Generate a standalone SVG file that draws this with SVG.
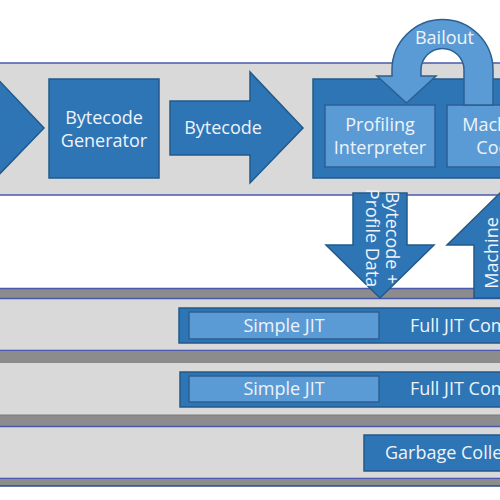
<svg xmlns="http://www.w3.org/2000/svg" width="500" height="500" viewBox="0 0 500 500">
<style>
text{font-family:"Open Sans","Noto Sans","DejaVu Sans",sans-serif;font-size:18px;fill:#eef3fa}
.c{text-anchor:middle}
.dark{fill:#2e75b6;stroke:#23598a;stroke-width:1.5}
.light{fill:#5b9bd5;stroke:#2c5f92;stroke-width:1.5}
.band{fill:#d9d9d9}
.strip{fill:#8c8c8c}
.bl{stroke:#4a58ad;stroke-width:1.5}
</style>
<rect width="500" height="500" fill="#ffffff"/>
<g id="bands">
<rect class="band" x="0" y="63" width="500" height="132"/>
<line class="bl" x1="0" y1="63" x2="500" y2="63"/>
<line class="bl" x1="0" y1="195" x2="500" y2="195"/>
<rect class="strip" x="0" y="289" width="500" height="9"/>
<line class="bl" x1="0" y1="288.5" x2="500" y2="288.5"/>
<rect class="band" x="0" y="298" width="500" height="52"/>
<line class="bl" x1="0" y1="298.5" x2="500" y2="298.5"/>
<line class="bl" x1="0" y1="350.5" x2="500" y2="350.5"/>
<rect class="strip" x="0" y="351" width="500" height="12"/>
<rect class="band" x="0" y="363" width="500" height="52"/>
<rect class="strip" x="0" y="415" width="500" height="11"/>
<line x1="0" y1="415" x2="500" y2="415" stroke="#7a7a7a" stroke-width="1"/>
<rect class="band" x="0" y="426" width="500" height="52"/>
<line class="bl" x1="0" y1="426.5" x2="500" y2="426.5"/>
<line class="bl" x1="0" y1="478.5" x2="500" y2="478.5"/>
<rect class="strip" x="0" y="479" width="500" height="7"/>
<line x1="0" y1="486" x2="500" y2="486" stroke="#2f4a8a" stroke-width="1.5"/>
</g>
<g id="bytecode-generator">
<rect class="dark" x="49" y="79" width="110" height="99"/>
<text class="c" x="104" y="124">Bytecode</text>
<text class="c" x="104" y="147">Generator</text>
</g>
<g id="execution-container">
<rect class="dark" x="313" y="79" width="250" height="99"/>
</g>
<g id="profiling-interpreter">
<rect class="light" x="325" y="105" width="110" height="62"/>
<text class="c" x="380" y="131">Profiling</text>
<text class="c" x="380" y="154">Interpreter</text>
</g>
<g id="machine-code">
<rect class="light" x="447" y="105" width="103" height="62"/>
<text class="c" x="498" y="131">Machine</text>
<text class="c" x="498" y="154">Code</text>
</g>
<g id="jit-1">
<rect class="dark" x="179" y="308" width="380" height="35"/>
<rect class="light" x="189" y="312" width="190" height="27"/>
<text class="c" x="284" y="332">Simple JIT</text>
<text x="410" y="332">Full JIT Compiler</text>
</g>
<g id="jit-2">
<rect class="dark" x="180" y="372" width="380" height="35"/>
<rect class="light" x="189" y="376" width="190" height="26"/>
<text class="c" x="284" y="395">Simple JIT</text>
<text x="410" y="395">Full JIT Compiler</text>
</g>
<g id="garbage-collector">
<rect class="dark" x="364" y="435" width="200" height="36"/>
<text x="385" y="459">Garbage Collector</text>
</g>
<g id="connectors">
<polygon class="dark" points="-60,101 -9,101 -9,72 44,128 -9,183 -9,155 -60,155"/>
<polygon class="dark" points="170,101 250,101 250,72 303,128 250,183 250,155 170,155"/>
<text class="c" x="223" y="134">Bytecode</text>
<path class="light" d="M464,105 L464,70 A21.5,21.5 0 0 0 421,70 L421,76 L436,76 L406.5,103 L377,76 L392,76 L392,70 A50.5,50.5 0 0 1 493,70 L493,105 Z"/>
<text class="c" x="444.5" y="44">Bailout</text>
<polygon class="dark" points="353,193 407,193 407,245 434,245 380,298 326,245 353,245"/>
<text class="c" transform="translate(386,238) rotate(90)">Bytecode +</text>
<text class="c" transform="translate(366,238) rotate(90)">Profile Data</text>
<polygon class="dark" points="474,298 528,298 528,245 555,245 501,192 447,245 474,245"/>
<text class="c" transform="translate(498,253) rotate(-90)">Machine</text>
<text class="c" transform="translate(519,253) rotate(-90)">Code</text>
</g>
</svg>
